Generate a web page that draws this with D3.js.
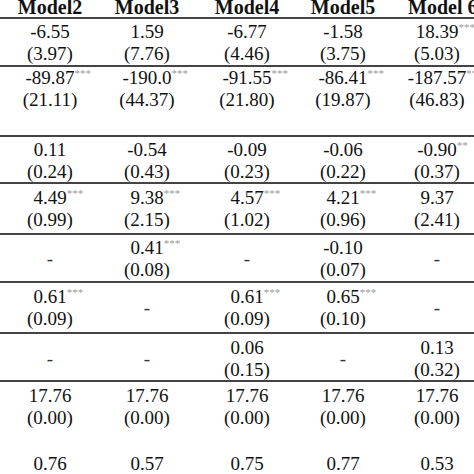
<!DOCTYPE html>
<html><head><meta charset="utf-8">
<script src="https://cdn.jsdelivr.net/npm/d3@7"></script>
<style>body{margin:0;background:#fff}</style>
</head><body>
<script>
const models = ["Model2", "Model3", "Model4", "Model5", "Model 6"];
// coefficient rows: value (null = "-")
const coefs = [
  ["-6.55", "1.59", "-6.77", "-1.58", "18.39"],
  ["-89.87", "-190.0", "-91.55", "-86.41", "-187.57"],
  ["0.11", "-0.54", "-0.09", "-0.06", "-0.90"],
  ["4.49", "9.38", "4.57", "4.21", "9.37"],
  [null, "0.41", null, "-0.10", null],
  ["0.61", null, "0.61", "0.65", null],
  [null, null, "0.06", null, "0.13"],
  ["17.76", "17.76", "17.76", "17.76", "17.76"]
];
const stars = [
  ["", "", "", "", "***"],
  ["***", "***", "***", "***", "***"],
  ["", "", "", "", "**"],
  ["***", "***", "***", "***", ""],
  ["", "***", "", "", ""],
  ["***", "", "***", "***", ""],
  ["", "", "", "", ""],
  ["", "", "", "", ""]
];
const ses = [
  ["(3.97)", "(7.76)", "(4.46)", "(3.75)", "(5.03)"],
  ["(21.11)", "(44.37)", "(21.80)", "(19.87)", "(46.83)"],
  ["(0.24)", "(0.43)", "(0.23)", "(0.22)", "(0.37)"],
  ["(0.99)", "(2.15)", "(1.02)", "(0.96)", "(2.41)"],
  [null, "(0.08)", null, "(0.07)", null],
  ["(0.09)", null, "(0.09)", "(0.10)", null],
  [null, null, "(0.15)", null, "(0.32)"],
  ["(0.00)", "(0.00)", "(0.00)", "(0.00)", "(0.00)"]
];
const r2 = ["0.76", "0.57", "0.75", "0.77", "0.53"];

// layout: row value centres and rule positions
const rowTop = [32, 78, 150, 198, 248, 297, 348, 396];
const rules = [18, 66, 136, 183, 234, 282, 333, 381];
const r2Y = 464;

const width = 474, height = 474;
const svg = d3.select("body").append("svg").attr("width", width).attr("height", height)
  .style("font-family", "'Liberation Serif', 'Times New Roman', serif");

const xPos = {Model2: 50, Model3: 147, Model4: 247, Model5: 343, "Model 6": 437};
const fs = 19;

svg.selectAll(".rule").data(rules).enter().append("line")
  .attr("x1", 0).attr("x2", width).attr("y1", d => d).attr("y2", d => d)
  .attr("stroke", "#444").attr("stroke-width", 2);

svg.selectAll(".head").data(models).enter().append("text")
  .attr("x", d => d === "Model 6" ? 408 : xPos[d]).attr("y", 14)
  .attr("text-anchor", d => d === "Model 6" ? "start" : "middle")
  .attr("font-weight", "bold").attr("font-size", 20).attr("fill", "#111").text(d => d);

coefs.forEach((row, i) => {
  row.forEach((v, j) => {
    const cx = xPos[models[j]];
    const g = svg.append("g");
    if (v === null) {
      g.append("text").attr("x", cx).attr("y", rowTop[i] + 17).attr("text-anchor", "middle")
        .attr("font-size", fs).attr("fill", "#333").text("-");
      return;
    }
    const t = g.append("text").attr("x", cx).attr("y", rowTop[i] + 6).attr("text-anchor", "middle")
      .attr("font-size", fs).attr("fill", "#111").text(v);
    if (stars[i][j]) {
      const w = t.node().getComputedTextLength();
      g.append("text").attr("x", cx + w / 2).attr("y", rowTop[i] - 1)
        .attr("font-size", 11).attr("fill", "#999").text(stars[i][j]);
    }
    g.append("text").attr("x", cx).attr("y", rowTop[i] + 28).attr("text-anchor", "middle")
      .attr("font-size", fs).attr("fill", "#111").text(ses[i][j]);
  });
});

svg.selectAll(".r2").data(r2).enter().append("text")
  .attr("x", (d, j) => xPos[models[j]]).attr("y", r2Y + 6).attr("text-anchor", "middle")
  .attr("font-size", fs).attr("fill", "#111").text(d => d);
</script>
</body></html>
